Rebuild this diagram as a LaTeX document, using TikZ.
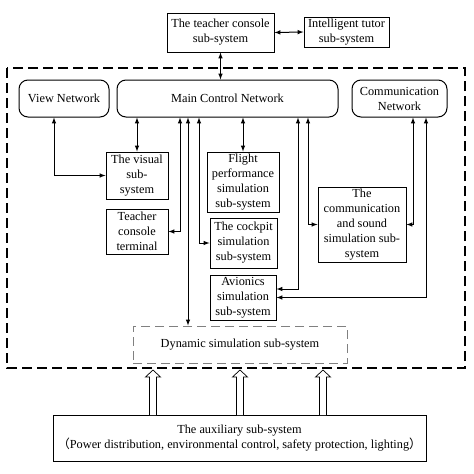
\documentclass[tikz,border=0pt]{standalone}
\usepackage{fontspec}
\setmainfont{Liberation Serif}
\newfontfamily\cjk{Noto Sans CJK SC}
\begin{document}
\begin{tikzpicture}[x=1pt, y=-1pt, >=latex, line width=1pt,
	font=\fontsize{12.3}{15}\selectfont,
	subbox/.style={draw, align=center, inner sep=0pt},
	netbox/.style={draw, rounded corners=9pt, align=center, inner sep=0pt, minimum height=37pt}]
		\useasboundingbox (0,0) rectangle (474,474);

		% Teacher console and tutor
		\node[subbox, minimum width=107pt, minimum height=39pt] (tcs) at (220.5, 32.5) {The teacher console\\sub-system};
		\node[subbox, minimum width=85pt, minimum height=30pt] (tutor) at (346.5, 32) {Intelligent tutor\\sub-system};

		% Simulator boundary
		\draw[line width=1.8pt, dash pattern=on 10pt off 5pt] (7,68) rectangle (465,368);

		% Networks
		\node[netbox, minimum width=90pt] (viewnet) at (64, 98.5) {View Network};
		\node[netbox, minimum width=221pt] (mainnet) at (227.5, 98.5) {Main Control Network};
		\node[netbox, minimum width=95pt] (commnet) at (399.5, 98.5) {Communication\\Network};

		% Sub-systems
		\node[subbox, minimum width=62pt, minimum height=47pt] (visual) at (137, 175.5) {The visual\\sub-\\system};
		\node[subbox, minimum width=72pt, minimum height=60pt] (flight) at (243, 182) {Flight\\performance\\simulation\\sub-system};
		\node[subbox, minimum width=62pt, minimum height=45pt] (terminal) at (137, 231.5) {Teacher\\console\\terminal};
		\node[subbox, minimum width=67pt, minimum height=50pt] (cockpit) at (243.5, 243) {The cockpit\\simulation\\sub-system};
		\node[subbox, minimum width=66pt, minimum height=45pt] (avionics) at (243, 297.5) {Avionics\\simulation\\sub-system};
		\node[subbox, minimum width=88pt, minimum height=75pt] (commsound) at (362, 224.5) {The\\communication\\and sound\\simulation sub-\\system};
		\node[subbox, draw=gray, dash pattern=on 9pt off 5pt, minimum width=214pt, minimum height=37pt] (dynamic) at (240, 344.5) {Dynamic simulation sub-system};
		\node[subbox, minimum width=373pt, minimum height=46pt] (aux) at (239.5, 438) {The auxiliary sub-system\\{\cjk （}Power distribution, environmental control, safety protection, lighting{\cjk ）}};

		% Connections
		\draw[<->] (tcs.east) -- (tutor.west);
		\draw[<->] (tcs.south) -- (mainnet.north -| tcs.south);
		\draw[<->] ([xshift=-10pt]viewnet.south) |- (visual.west);
		\draw[<->] (mainnet.south -| visual.north) -- (visual.north);
		\draw[<->] (mainnet.south -| flight.north) -- (flight.north);
		\draw[<->] (mainnet.south -| 180,0) |- (terminal.east);
		\draw[<->] (mainnet.south -| 188,0) -- (dynamic.north -| 188,0);
		\draw[<->] (mainnet.south -| 199,0) |- (cockpit.west);
		\draw[<->] (mainnet.south -| 298,0) |- ([yshift=8.5pt]avionics.east);
		\draw[<->] (mainnet.south -| 308,0) |- (commsound.west);
		\draw[<->] (commnet.south -| 413,0) |- (commsound.east);
		\draw[<->] (commnet.south -| 426,0) |- (avionics.east);

		% Power supply arrows
		\foreach \ax in {153,240,323}
			\draw[fill=white, line width=0.7pt] (\ax-3.5,415) -- (\ax-3.5,377) -- (\ax-7.5,377) -- (\ax,370) -- (\ax+7.5,377) -- (\ax+3.5,377) -- (\ax+3.5,415);

	\end{tikzpicture}
\end{document}
